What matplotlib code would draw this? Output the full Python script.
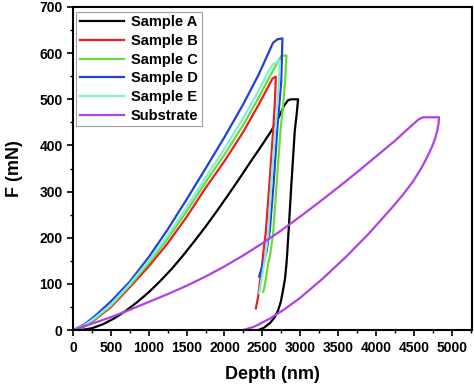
import numpy as np
import matplotlib.pyplot as plt

plt.rcParams['font.family'] = ['Liberation Sans', 'DejaVu Sans']
plt.rcParams['font.weight'] = 'bold'

# Sample A
a_depth = [100, 250, 400, 550, 700, 850, 1000, 1150, 1300, 1450, 1600, 1750, 1900, 2050, 2200, 2350, 2500,
           2620, 2720, 2790, 2840, 2880, 2972,
           2955, 2929, 2885, 2845, 2830, 2819, 2800, 2774, 2745, 2709, 2660, 2599, 2520, 2445]
a_force = [0, 4, 13, 26, 42, 61, 82, 106, 132, 161, 192, 224, 258, 293, 329, 366, 402,
           432, 462, 487, 498, 500, 500,
           470, 433, 320, 210, 170, 144, 112, 87, 62, 43, 27, 15, 5, 0]
# Sample B
b_depth = [0, 150, 300, 500, 750, 1000, 1250, 1500, 1750, 2000, 2250, 2450, 2580, 2634, 2678,
           2668, 2643, 2595, 2545, 2515, 2489, 2465, 2445, 2414]
b_force = [0, 8, 24, 50, 93, 138, 188, 245, 308, 366, 430, 488, 528, 545, 549,
           500, 433, 320, 210, 170, 130, 100, 72, 47]
# Sample C
c_depth = [0, 150, 300, 500, 750, 1000, 1250, 1500, 1750, 2000, 2250, 2450, 2600, 2700, 2753, 2818,
           2800, 2770, 2740, 2690, 2643, 2600, 2577, 2545, 2524, 2511]
c_force = [0, 9, 26, 53, 97, 145, 198, 257, 320, 380, 445, 503, 550, 580, 594, 595,
           540, 480, 433, 320, 210, 160, 144, 110, 90, 83]
# Sample D
d_depth = [0, 150, 300, 500, 750, 1000, 1250, 1500, 1750, 2000, 2250, 2450, 2580, 2640, 2700, 2766,
           2760, 2750, 2720, 2696, 2650, 2599, 2555, 2511, 2480, 2458]
d_force = [0, 12, 32, 62, 105, 158, 218, 283, 350, 418, 490, 553, 600, 622, 630, 632,
           600, 540, 480, 433, 320, 217, 170, 144, 128, 116]
# Sample E
e_depth = [0, 150, 300, 500, 750, 1000, 1250, 1500, 1750, 2000, 2250, 2450, 2580, 2640, 2731,
           2720, 2690, 2670, 2620, 2575, 2530, 2490, 2470, 2458]
e_force = [0, 10, 28, 55, 100, 150, 205, 266, 330, 393, 460, 518, 560, 576, 584,
           540, 470, 433, 320, 205, 150, 110, 90, 80]
# Substrate
s_depth = [0, 250, 500, 750, 1000, 1250, 1500, 1750, 2000, 2250, 2500, 2750, 3000, 3250, 3500, 3750,
           4000, 4250, 4450, 4560, 4620, 4833,
           4828, 4810, 4780, 4740, 4680, 4600, 4490, 4350, 4200, 3900, 3600, 3300, 3000, 2800, 2600,
           2400, 2247]
s_force = [0, 14, 28, 44, 61, 78, 96, 116, 138, 162, 188, 216, 246, 277, 309, 342,
           376, 410, 440, 456, 461, 461,
           448, 432, 414, 397, 376, 351, 322, 292, 263, 208, 158, 112, 70, 46, 25,
           8, 0]

fig = plt.figure(figsize=(4.74, 3.87), dpi=100)
ax = fig.add_axes([0.154, 0.147, 0.842, 0.835])

lw = 1.6
ax.plot(a_depth, a_force, color='black', lw=lw, label='Sample A')
ax.plot(b_depth, b_force, color='#ee1c24', lw=lw, label='Sample B')
ax.plot(c_depth, c_force, color='#66dd33', lw=lw, label='Sample C')
ax.plot(d_depth, d_force, color='#2040e0', lw=lw, label='Sample D')
ax.plot(e_depth, e_force, color='#80eedd', lw=lw, label='Sample E')
ax.plot(s_depth, s_force, color='#b040e8', lw=lw, label='Substrate')

ax.set_xlim(0, 5270)
ax.set_ylim(0, 700)
ax.set_xticks(np.arange(0, 5001, 500))
ax.set_xticks(np.arange(0, 5270, 250), minor=True)
ax.set_yticks(np.arange(0, 701, 100))
ax.set_yticks(np.arange(0, 701, 50), minor=True)
ax.tick_params(which='major', direction='out', length=4, width=1.2, labelsize=10)
ax.tick_params(which='minor', direction='out', length=2.5, width=1.0)
for lab in ax.get_xticklabels() + ax.get_yticklabels():
    lab.set_fontweight('bold')
for sp in ax.spines.values():
    sp.set_linewidth(1.5)

ax.set_xlabel('Depth (nm)', fontsize=13, fontweight='bold', labelpad=8)
ax.set_ylabel('F (mN)', fontsize=13, fontweight='bold', labelpad=12)

leg = ax.legend(loc='upper left', bbox_to_anchor=(0.008, 0.985), fontsize=10.5, frameon=True,
                fancybox=False, edgecolor='#888888', handlelength=3.0, labelspacing=0.32,
                borderpad=0.25, handletextpad=0.5, borderaxespad=0)
leg.get_frame().set_linewidth(0.8)
for t in leg.get_texts():
    t.set_fontweight('bold')

fig.savefig('out.png', dpi=100)
